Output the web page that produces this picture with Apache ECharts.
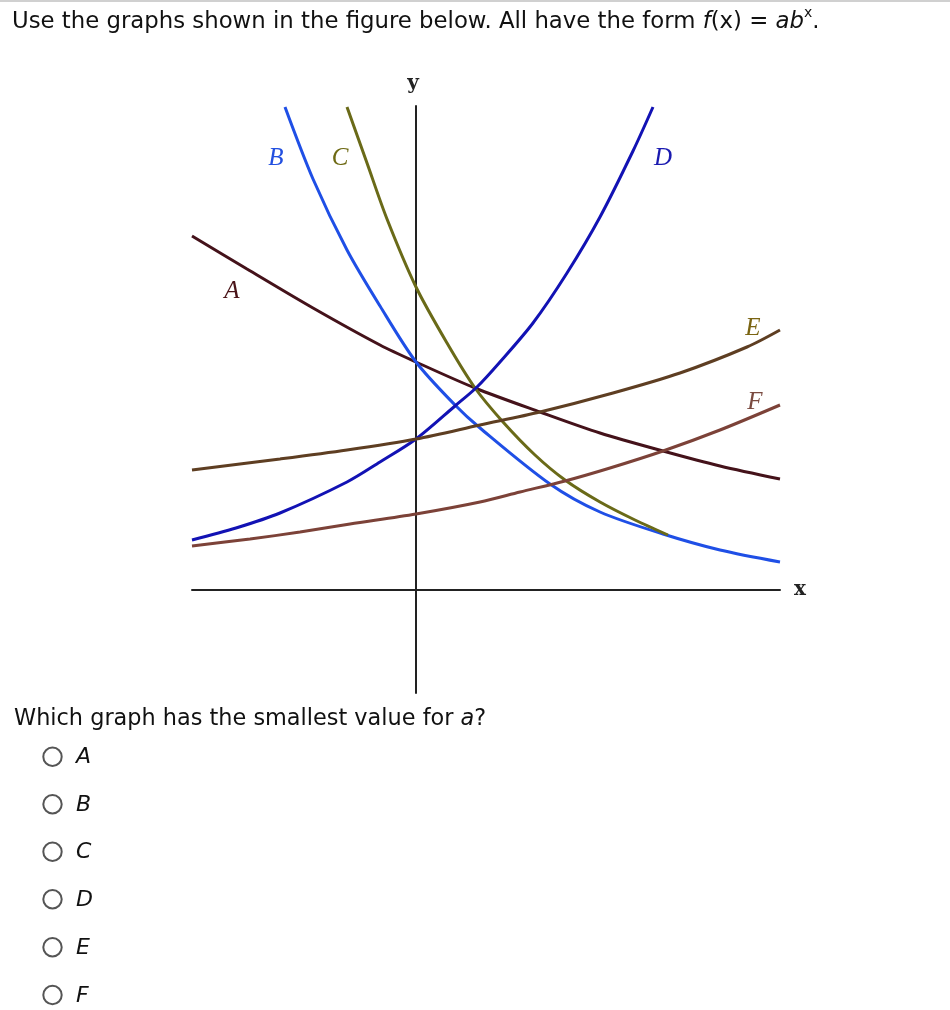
<!DOCTYPE html>
<html><head><meta charset="utf-8">
<script src="https://cdn.jsdelivr.net/npm/echarts/dist/echarts.min.js"></script>
<style>html,body{margin:0;padding:0;background:#fff}#c{width:950px;height:1010px}</style>
</head><body><div id="c"></div>
<script>
// Curve A
const aX = [-2.24, -1.69, -1.03, -0.36, 0, 0.59, 1.24, 1.84, 2.47, 3.04, 3.64];
const aY = [3.54, 3.21, 2.82, 2.45, 2.28, 2.02, 1.78, 1.57, 1.39, 1.24, 1.11];
// Curve B
const bX = [-1.31, -1.03, -0.69, -0.36, 0, 0.39, 0.64, 1.34, 1.84, 2.47, 3.04, 3.64];
const bY = [4.83, 4.11, 3.40, 2.84, 2.28, 1.85, 1.62, 1.06, 0.78, 0.56, 0.40, 0.28];
// Curve C
const cX = [-0.69, -0.49, -0.29, 0, 0.31, 0.59, 0.87, 1.19, 1.49, 1.84, 2.19, 2.52];
const cY = [4.83, 4.27, 3.71, 3.03, 2.47, 2.02, 1.68, 1.35, 1.10, 0.88, 0.70, 0.55];
// Curve D
const dX = [-2.24, -1.80, -1.36, -0.69, -0.36, 0, 0.39, 0.61, 0.84, 1.17, 1.51, 1.84, 2.17, 2.37];
const dY = [0.50, 0.62, 0.77, 1.08, 1.28, 1.51, 1.84, 2.03, 2.28, 2.67, 3.17, 3.73, 4.39, 4.83];
// Curve E
const eX = [-2.24, -1.36, -0.69, 0, 0.64, 1.24, 1.97, 2.64, 3.31, 3.64];
const eY = [1.20, 1.31, 1.40, 1.51, 1.65, 1.78, 1.97, 2.17, 2.43, 2.60];
// Curve F
const fX = [-2.24, -1.66, -1.16, -0.66, 0, 0.64, 1.04, 1.49, 1.94, 2.47, 3.04, 3.64];
const fY = [0.44, 0.51, 0.58, 0.66, 0.76, 0.88, 0.98, 1.09, 1.22, 1.39, 1.60, 1.85];

const curveNames = ['A', 'B', 'C', 'D', 'E', 'F'];
const optionLabels = ['A', 'B', 'C', 'D', 'E', 'F'];
const titleText = 'Use the graphs shown in the figure below. All have the form ';
const questionText = 'Which graph has the smallest value for ';

const pairs = (xs, ys) => xs.map((x, i) => [x, ys[i]]);
const curves = [
  { name: 'A', data: pairs(aX, aY), color: '#44121a' },
  { name: 'B', data: pairs(bX, bY), color: '#1f4fe6' },
  { name: 'C', data: pairs(cX, cY), color: '#6a6a18' },
  { name: 'D', data: pairs(dX, dY), color: '#1212b4' },
  { name: 'E', data: pairs(eX, eY), color: '#5e3e22' },
  { name: 'F', data: pairs(fX, fY), color: '#7c4238' }
];
const labelColors = { A: '#4a1418', B: '#2350e0', C: '#6e6a14', D: '#1a1ab0', E: '#7a6412', F: '#7a4a40' };
const labelPos = { A: [232, 291], B: [276, 158], C: [340, 158], D: [663, 158], E: [753, 328], F: [755, 402] };

const FONT = 'DejaVu Sans';
const chart = echarts.init(document.getElementById('c'), null, { renderer: 'canvas' });

const graphics = [];
graphics.push({ type: 'line', shape: { x1: 0, y1: 1, x2: 950, y2: 1 }, style: { stroke: '#d0d0d0', lineWidth: 2 } });
graphics.push({
  type: 'text', left: 12, top: 6,
  style: {
    text: '{n|' + titleText + '}{i|f}{n|(x) = }{i|ab}{s|x}{n|.}',
    rich: {
      n: { fontFamily: FONT, fontSize: 22.8, fill: '#111', lineHeight: 28, verticalAlign: 'bottom' },
      i: { fontFamily: FONT, fontStyle: 'italic', fontSize: 22.8, fill: '#111', lineHeight: 28, verticalAlign: 'bottom' },
      s: { fontFamily: FONT, fontSize: 14, fill: '#111', lineHeight: 28, verticalAlign: 'top' }
    }
  }
});
graphics.push({
  type: 'text', left: 14, top: 708,
  style: {
    text: '{n|' + questionText + '}{i|a}{n|?}',
    rich: {
      n: { fontFamily: FONT, fontSize: 22.4, fill: '#111', lineHeight: 28 },
      i: { fontFamily: FONT, fontStyle: 'italic', fontSize: 22.4, fill: '#111', lineHeight: 28 }
    }
  }
});
const optY = [756.7, 804.3, 851.7, 899.3, 947.3, 995];
optionLabels.forEach((l, i) => {
  graphics.push({ type: 'circle', shape: { cx: 52.5, cy: optY[i], r: 9.2 }, style: { fill: '#fff', stroke: '#555', lineWidth: 2 } });
  graphics.push({ type: 'text', x: 76, y: optY[i] + 1, style: { text: l, fontFamily: FONT, fontStyle: 'italic', fontSize: 22, fill: '#111', verticalAlign: 'middle', align: 'left' } });
});
curveNames.forEach(n => {
  graphics.push({ type: 'text', x: labelPos[n][0], y: labelPos[n][1], z: 10, style: { text: n, fontFamily: 'Liberation Serif', fontStyle: 'italic', fontSize: 25, fill: labelColors[n], align: 'center', verticalAlign: 'middle' } });
});

chart.setOption({
  animation: false,
  backgroundColor: '#fff',
  grid: { left: 192, top: 106, width: 588, height: 587, containLabel: false },
  xAxis: {
    type: 'value', min: -2.24, max: 3.64,
    axisLine: { show: true, onZero: true, lineStyle: { color: '#222', width: 2 } },
    axisTick: { show: false }, axisLabel: { show: false }, splitLine: { show: false },
    name: 'x', nameLocation: 'end', nameGap: 14,
    nameTextStyle: { fontFamily: 'DejaVu Serif', fontWeight: 'bold', fontSize: 20, color: '#222', verticalAlign: 'middle', padding: [6, 0, 0, 0] }
  },
  yAxis: {
    type: 'value', min: -1.03, max: 4.84,
    axisLine: { show: true, onZero: true, lineStyle: { color: '#222', width: 2 } },
    axisTick: { show: false }, axisLabel: { show: false }, splitLine: { show: false },
    name: 'y', nameLocation: 'end', nameGap: 12,
    nameTextStyle: { fontFamily: 'DejaVu Serif', fontWeight: 'bold', fontSize: 20, color: '#222', align: 'center', padding: [0, 6, 0, 0] }
  },
  series: curves.map(c => ({
    name: c.name, type: 'line', data: c.data, smooth: 0.3, showSymbol: false,
    clip: false, lineStyle: { color: c.color, width: 3 }, silent: true
  })),
  graphic: graphics
});
</script>
</body></html>
